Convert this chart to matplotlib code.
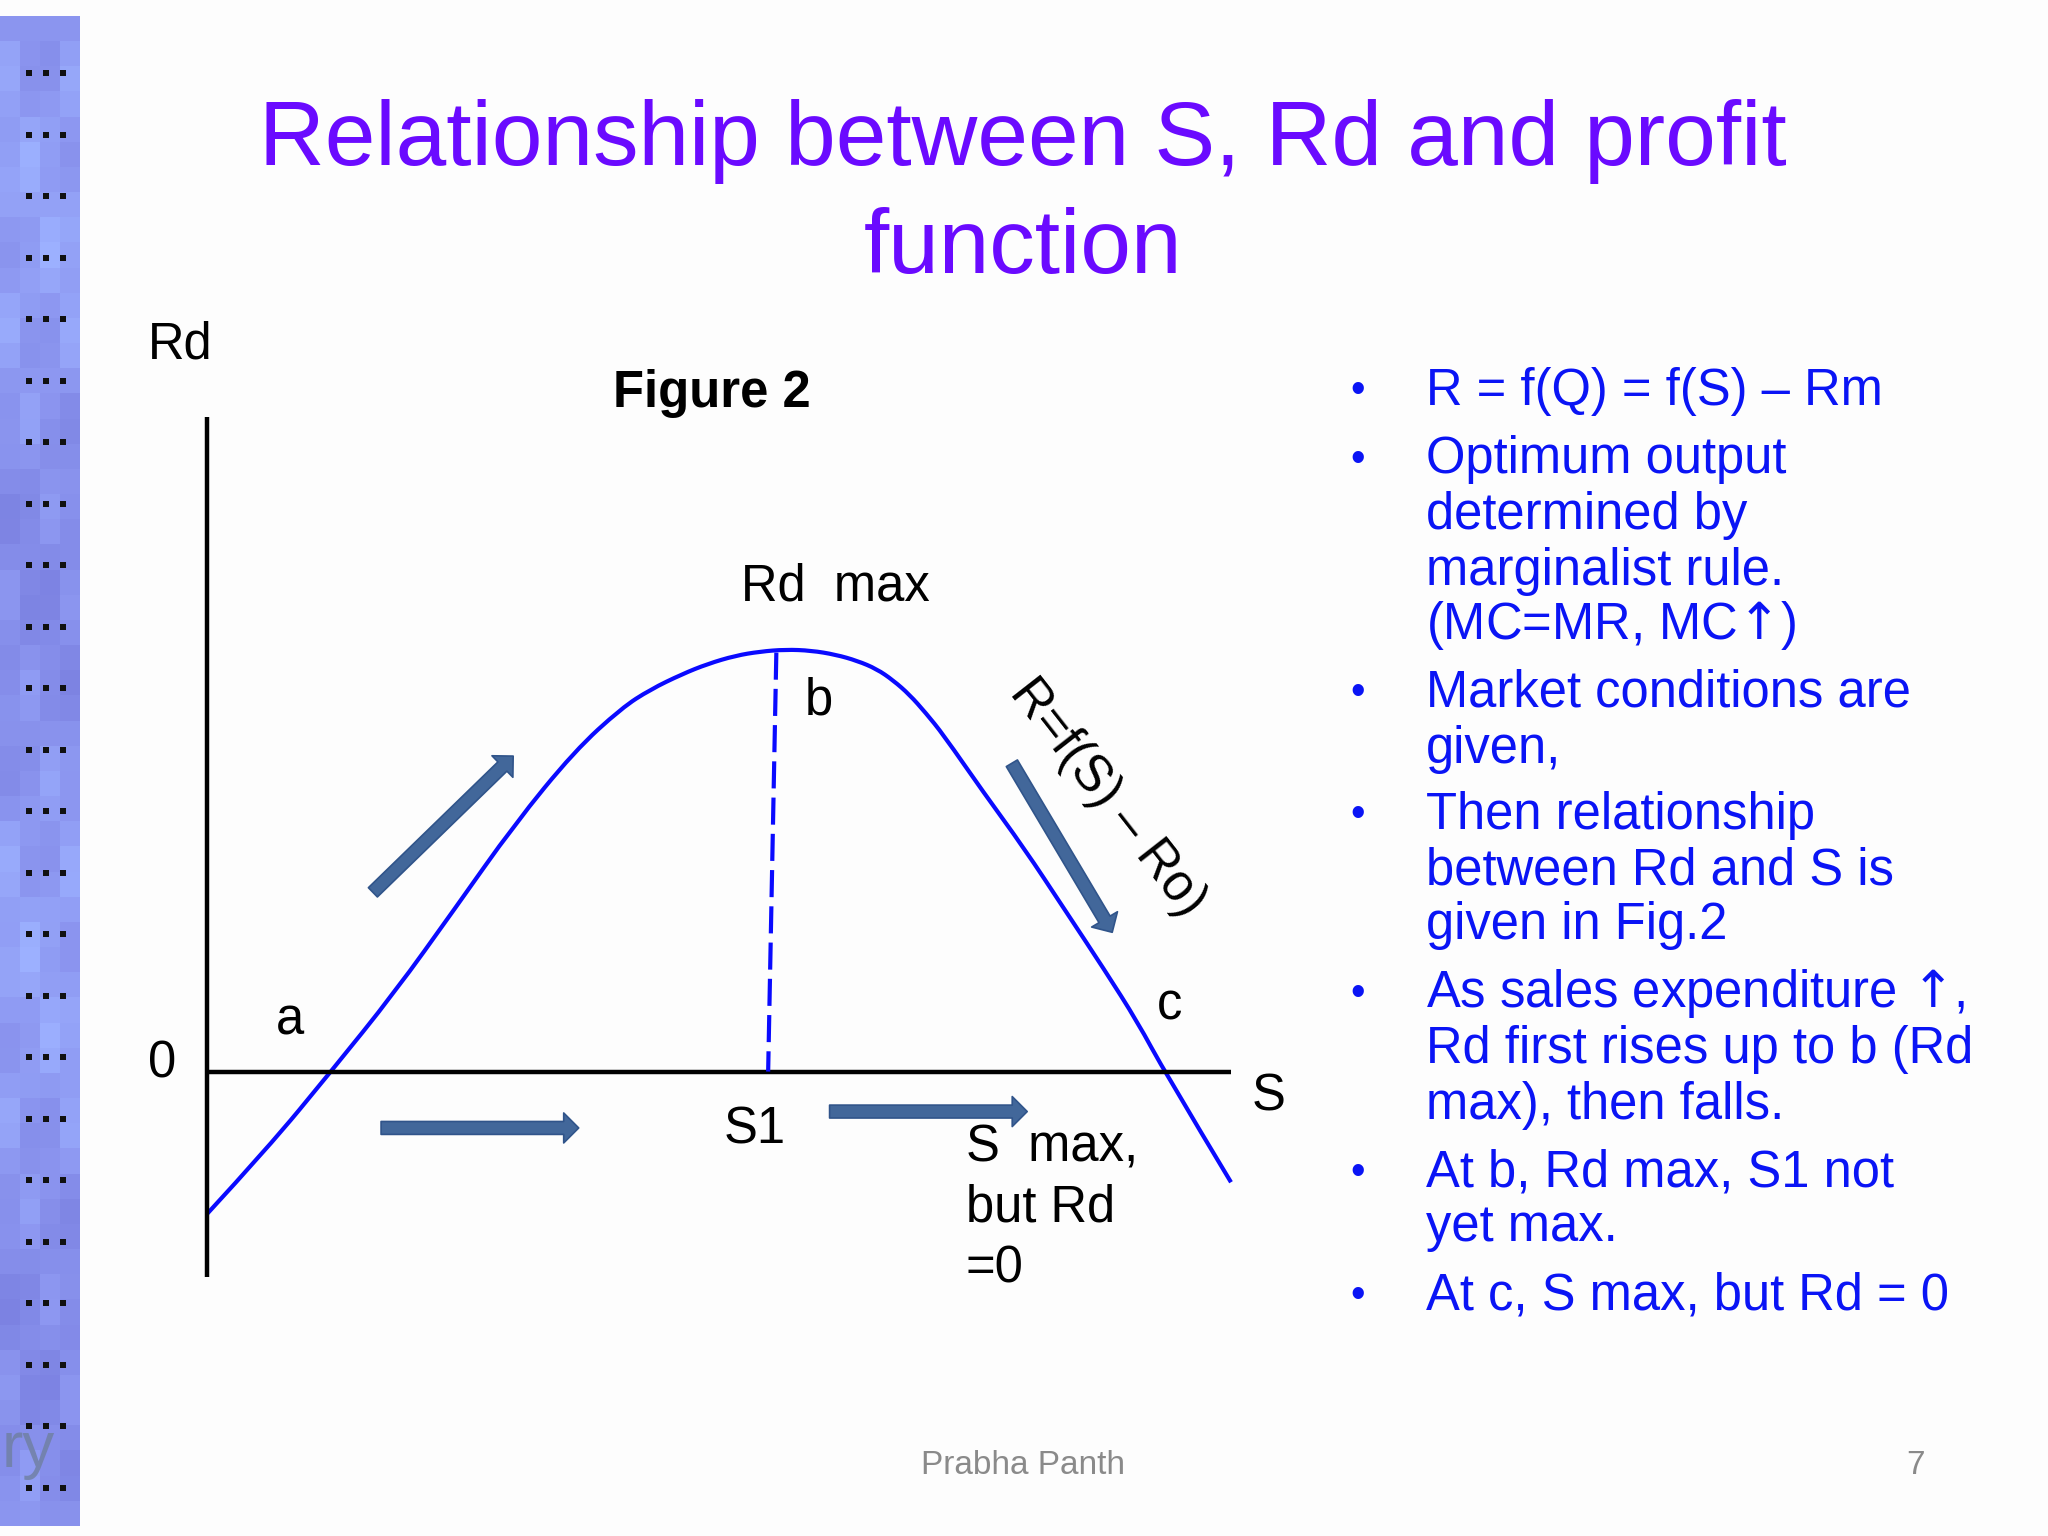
import numpy as np
import matplotlib.pyplot as plt
from matplotlib.patches import FancyArrowPatch, ArrowStyle, PathPatch
from matplotlib.path import Path
from matplotlib.colors import LinearSegmentedColormap

plt.rcParams['font.family'] = ['Liberation Sans', 'DejaVu Sans']
plt.rcParams['mathtext.fontset'] = 'dejavusans'

# Curve R = f(S) - Ro (S units, Rd units)
S_CURVE = [0.0, 5.9, 12.1, 18.3, 24.2, 30.0, 35.9, 40.5, 43.3, 46.4, 48.9, 51.6,
           54.0, 56.5, 59.0, 61.4, 63.5, 65.4, 67.0, 68.6, 70.2, 71.9, 75.8,
           79.8, 83.7, 87.6, 90.9, 93.5, 100.0]
RD_CURVE = [-13.9, -7.5, 0.0, 7.7, 15.9, 24.1, 31.3, 35.5, 37.3, 38.8, 39.8, 40.6,
            41.0, 41.2, 41.1, 40.7, 40.1, 39.3, 38.2, 36.8, 35.0, 32.9, 27.3,
            21.8, 15.9, 10.0, 4.8, 0.0, -10.8]

# S1 drop line (top at b, bottom on the S axis)
S1_LINE_S = [55.6, 54.8]
S1_LINE_RD = [40.9, 0.0]

# direction arrows: (S start, Rd start, S end, Rd end)
ARROWS = [
    (16.2, 17.5, 29.9, 30.8),
    (17.0, -5.5, 36.3, -5.5),
    (60.8, -3.9, 80.1, -3.9),
    (78.6, 30.1, 88.4, 13.6),
]

TITLE_LINES = ['Relationship between S, Rd and profit', 'function']

BULLETS = [
    ['R = f(Q) = f(S) \u2013 Rm'],
    ['Optimum output', 'determined by', 'marginalist rule.', '(MC=MR, MC$\u2191$)'],
    ['Market conditions are', 'given,'],
    ['Then relationship', 'between Rd and S is', 'given in Fig.2'],
    ['As sales expenditure $\u2191$,', 'Rd first rises up to b (Rd', 'max), then falls.'],
    ['At b, Rd max, S1 not', 'yet max.'],
    ['At c, S max, but Rd = 0'],
]

W, H = 2048, 1536
fig = plt.figure(figsize=(W / 100, H / 100), dpi=100)
fig.patch.set_facecolor('#fdfdfd')

# page layer in pixel units
bg = fig.add_axes([0, 0, 1, 1])
bg.set_xlim(0, W)
bg.set_ylim(H, 0)
bg.axis('off')

# left decorative strip
yy, xx = np.mgrid[0:60, 0:4]
shade = 0.5 + 0.25 * np.sin(yy * 0.9) * np.cos(xx * 1.7 + yy * 0.3) + 0.2 * np.sin(yy * 0.21)
strip_cmap = LinearSegmentedColormap.from_list('strip', ['#7c82e2', '#8c96f0', '#9cb0ff'])
bg.imshow(shade, cmap=strip_cmap, extent=(0, 80, 1526, 16), aspect='auto',
          interpolation='nearest', zorder=1)
dot_y = 73 + 61.5 * np.arange(24)
for dx in (29, 46, 63):
    bg.scatter(np.full(dot_y.size, dx), dot_y, marker='s', s=22, color='#111111',
               zorder=2, linewidths=0)
bg.text(2, 1450, 'ry', fontsize=46, color='#6f7f9f', alpha=0.8, ha='left', va='center',
        zorder=3)

# title
title_color = '#6a0aff'
bg.text(1023, 142, TITLE_LINES[0], fontsize=65.5, color=title_color, ha='center', va='center')
bg.text(1023, 250, TITLE_LINES[1], fontsize=65.5, color=title_color, ha='center', va='center')

# bullet list on the right
text_blue = '#0a14f5'
line_y = [[391], [460, 515, 571, 625], [693, 749], [815, 871, 926],
          [994, 1049, 1105], [1173, 1228], [1296]]
for lines, ys in zip(BULLETS, line_y):
    bg.text(1358, ys[0], '\u2022', fontsize=30, color=text_blue, ha='center', va='center')
    for txt, y in zip(lines, ys):
        bg.text(1426, y, txt, fontsize=36.5, color=text_blue, ha='left', va='center')

# footer
bg.text(1023, 1466, 'Prabha Panth', fontsize=24, color='#8a8a8a', ha='center', va='center')
bg.text(1915, 1466, '7', fontsize=24, color='#8a8a8a', ha='center', va='center')

# diagram
ax = fig.add_axes([207 / W, (H - 1277) / H, (1231 - 207) / W, (1277 - 417) / H])
ax.set_xlim(0, 100)
ax.set_ylim(-20.05, 63.9)
ax.axis('off')
ax.patch.set_alpha(0)

ax.plot([0, 0], [-20.05, 63.9], color='black', lw=3.2, solid_capstyle='butt', clip_on=False)
ax.plot([0, 100], [0, 0], color='black', lw=3.2, solid_capstyle='butt', clip_on=False)

# smooth curve: quadratic segments with the read points as control points
pts = np.column_stack([S_CURVE, RD_CURVE])
verts = [pts[0]]
codes = [Path.MOVETO]
for i in range(1, len(pts) - 1):
    end = pts[-1] if i == len(pts) - 2 else (pts[i] + pts[i + 1]) / 2
    verts += [pts[i], end]
    codes += [Path.CURVE3, Path.CURVE3]
ax.add_patch(PathPatch(Path(verts, codes), facecolor='none', edgecolor='#0a0aff',
                       lw=3.0, joinstyle='round', clip_on=False))
ax.plot(S1_LINE_S, S1_LINE_RD, color='#0a0aff', lw=3.0, linestyle=(0, (6.5, 2.2)))

arrow_style = ArrowStyle.Simple(head_length=0.36, head_width=0.72, tail_width=0.31)
for s0, r0, s1, r1 in ARROWS:
    ax.add_patch(FancyArrowPatch((s0, r0), (s1, r1), arrowstyle=arrow_style,
                                 mutation_scale=30, shrinkA=0, shrinkB=0,
                                 facecolor='#42679a', edgecolor='#30548a', lw=1.2,
                                 clip_on=False))

lab = dict(fontsize=36.5, color='black', ha='center', va='center')
ax.text(-2.6, 70.9, 'Rd', clip_on=False, **lab)
ax.text(49.3, 66.2, 'Figure 2', fontweight='bold', clip_on=False, **lab)
ax.text(61.4, 47.3, 'Rd  max', **lab)
ax.text(59.8, 36.2, 'b', **lab)
ax.text(8.1, 4.9, 'a', **lab)
ax.text(-4.4, 0.75, '0', clip_on=False, **lab)
ax.text(53.5, -5.7, 'S1', **lab)
ax.text(94.0, 6.4, 'c', **lab)
ax.text(103.7, -2.5, 'S', clip_on=False, **lab)
ax.text(87.9, 26.7, 'R=f(S) \u2013 Ro)', rotation=-52, rotation_mode='anchor', **lab)
for i, txt in enumerate(['S  max,', 'but Rd', '=0']):
    ax.text(74.1, -7.45 - i * 5.9, txt, fontsize=36.5, color='black', ha='left', va='center')

fig.savefig('out.png', dpi=100, facecolor=fig.get_facecolor())
